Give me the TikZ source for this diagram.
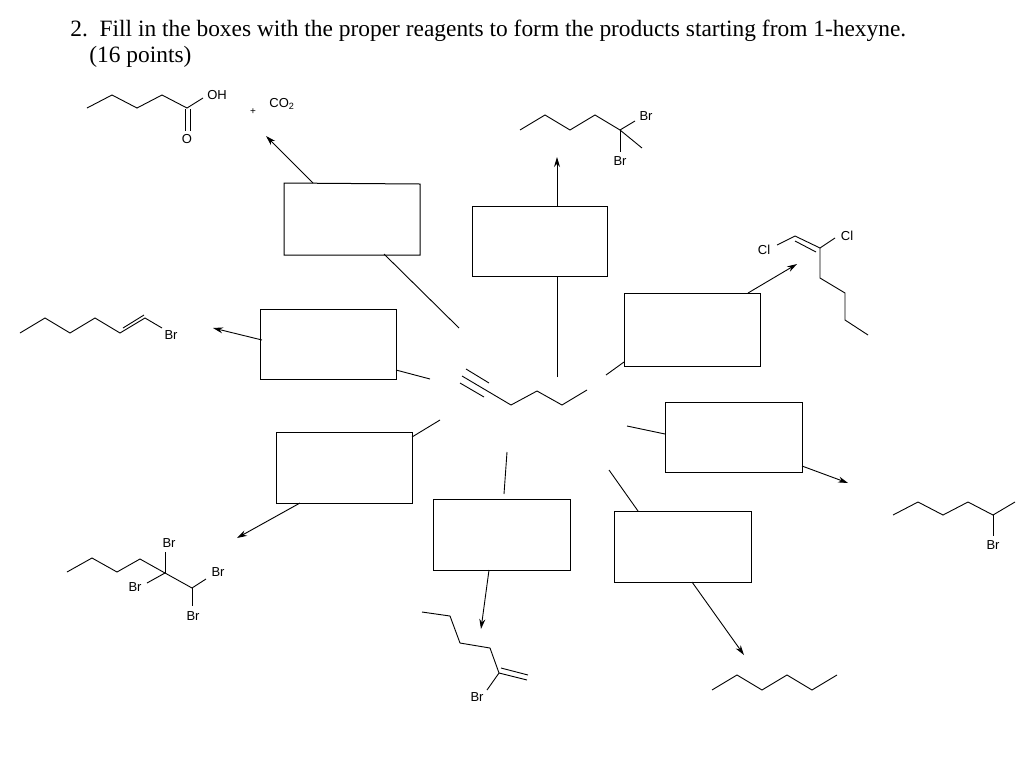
\documentclass[tikz,border=0pt]{standalone}
\usepackage{fontspec}
\setmainfont{Liberation Serif}
\newfontfamily\arialf{Liberation Sans}
\usetikzlibrary{arrows.meta}
\begin{document}
\begin{tikzpicture}[x=1pt,y=-1pt,line width=0.9pt,
  bx/.style={draw,line width=1pt},
  arr/.style={-{Stealth[length=10pt,width=6pt]}},
  bd/.style={line width=0.9pt},
  lab/.style={font=\arialf\fontsize{13}{15}\selectfont,inner sep=0pt}]
\useasboundingbox (0,0) rectangle (1024,769);
\node[anchor=west,font=\fontsize{23.4}{27}\selectfont,inner sep=0] (t1) at (70,31) {2.\ \ Fill in the boxes with the proper reagents to form the products starting from 1-hexyne.};
\node[anchor=west,font=\fontsize{23.4}{27}\selectfont,inner sep=0] (t2) at (89,57) {(16 points)};
% boxes
\draw[bx] (284,183) -- (420,184) -- (420,255) -- (284,255) -- cycle;
\draw[bx] (472,206) rectangle (607,276);
\draw[bx] (260,309) rectangle (396,379);
\draw[bx] (624,293) rectangle (760,366);
\draw[bx] (665,402) rectangle (802,472);
\draw[bx] (276,432) rectangle (412,503);
\draw[bx] (433,499) rectangle (570,570);
\draw[bx] (614,511) rectangle (751,582);
% connectors
\draw (459,328) -- (384,254); \draw[arr] (313,183) -- (266,136);
\draw (557,377) -- (557,276); \draw[arr] (557,206) -- (557,157);
\draw (396,370) -- (430,379); \draw[arr] (262,340) -- (213,328);
\draw (606,375) -- (624,362); \draw[arr] (748,293) -- (797,264);
\draw (627,426) -- (665,434); \draw[arr] (802,466) -- (848,483);
\draw (412,437) -- (440,420); \draw[arr] (300,503) -- (237,538);
\draw (507,452) -- (504,494); \draw[arr] (489,570) -- (481,629);
\draw (609,470) -- (638,511); \draw[arr] (692,582) -- (744,655);
% hexyne
\draw[bd] (462,376) -- (511,405);
\draw[bd] (466,369) -- (489,383);
\draw[bd] (460,383) -- (484,397);
\draw[bd] (511,405) -- (537,391) -- (562,405) -- (587,390);
% P1
\draw[bd] (87,108) -- (112,95) -- (137,108) -- (162,95) -- (187,108) -- (203,98);
\draw[bd] (185,109) -- (185,131); \draw[bd] (190,109) -- (190,131);
\node[lab] (oh) at (217,95) {OH};
\node[lab] (o) at (187,139) {O};
\node[lab] (pl) at (253,112) {\fontsize{10}{11}\selectfont +};
\node[lab] (co) at (282,104) {CO\textsubscript{2}};
% P2
\draw[bd] (520,130) -- (545,115) -- (570,130) -- (595,115) -- (620,130) -- (635,121);
\draw[bd] (620,130) -- (642,148); \draw[bd] (620,130) -- (620,152);
\node[lab] (b21) at (646,116) {Br};
\node[lab] (b22) at (620,161) {Br};
% P3
\draw[bd] (20,333) -- (45,318) -- (70,333) -- (95,318) -- (120,333) -- (145,318) -- (162,328);
\draw[bd] (123,328) -- (144,315);
\node[lab] (b3) at (171,335) {Br};
% P4
\node[lab] (c41) at (764,250) {Cl};
\node[lab] (c42) at (847,236) {Cl};
\draw[bd] (777,245) -- (795,236) -- (820,248) -- (835,238);
\draw[bd] (795,241) -- (816,252);
\draw[bd] (820,248) -- (820,278) -- (845,293) -- (845,320) -- (868,335);
% P5
\draw[bd] (893,515) -- (918,502) -- (943,515) -- (968,502) -- (993,515) -- (1015,502);
\draw[bd] (993,515) -- (993,536);
\node[lab] (b5) at (993,545) {Br};
% P6
\draw[bd] (67,572) -- (92,558) -- (117,572) -- (140,559) -- (165,573) -- (192,588) -- (206,579);
\draw[bd] (165,573) -- (165,552); \draw[bd] (165,573) -- (147,583); \draw[bd] (192,588) -- (192,606);
\node[lab] (b61) at (169,543) {Br};
\node[lab] (b62) at (135,587) {Br};
\node[lab] (b63) at (218,572) {Br};
\node[lab] (b64) at (193,616) {Br};
% P7
\draw[bd] (422,612) -- (450,616) -- (460,643) -- (490,648) -- (499,673) -- (487,690);
\draw[bd] (499,673) -- (527,680); \draw[bd] (501,668) -- (528,675);
\node[lab] (b7) at (477,697) {Br};
% P8
\draw[bd] (712,690) -- (737,675) -- (762,690) -- (787,675) -- (812,690) -- (837,675);
\end{tikzpicture}
\end{document}
